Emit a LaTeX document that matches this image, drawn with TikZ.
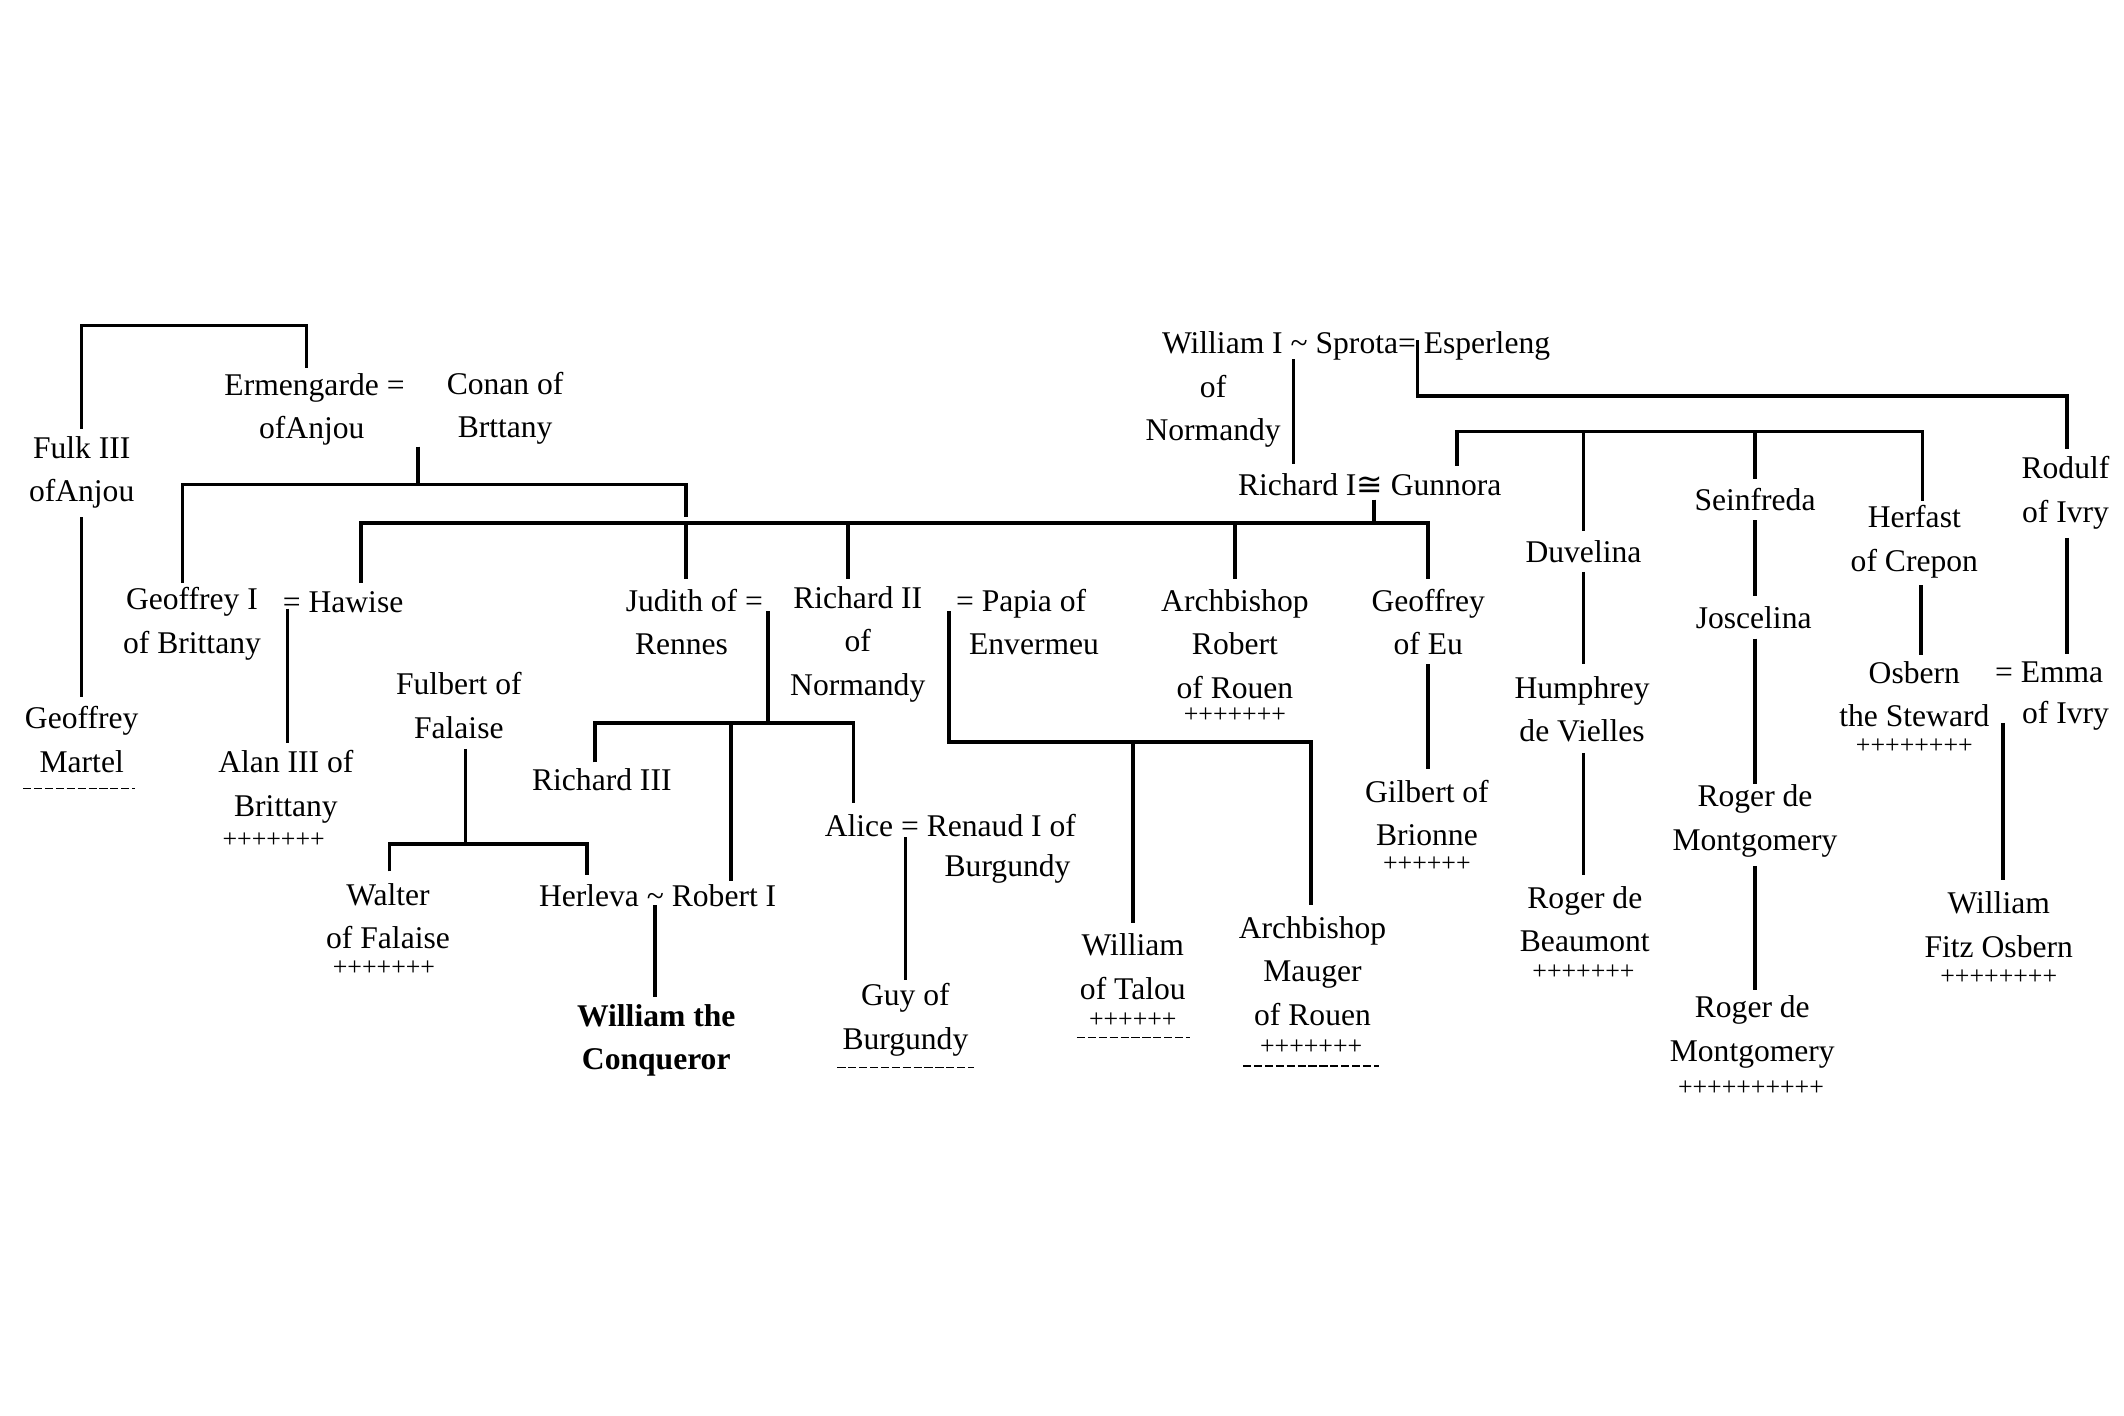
\documentclass[tikz,border=0pt]{standalone}
\usepackage{fontspec}
\setmainfont{Liberation Serif}
\newfontfamily\symf{DejaVu Sans}
\begin{document}
\begin{tikzpicture}[x=0.5pt,y=-0.5pt,
  t/.style={font=\fontsize{11.6}{16}\selectfont,align=center,inner sep=0pt},
  pl/.style={font=\fontsize{9.5}{12}\selectfont,inner sep=0pt},
  ln/.style={line width=1.3pt},
  dl/.style={line width=0.6pt,dash pattern=on 3pt off 1pt}]
\useasboundingbox (0,0) rectangle (1560,1040);
% people
\node[t] (fulk) at (60,347) {Fulk III\\ofAnjou};
\node[t] (erm) at (231,285) {Ermengarde =};
\node[t] (ermb) at (229,316) {ofAnjou};
\node[t] (conan) at (371,300) {Conan of\\Brttany};
\node[t] (gmart) at (60,543) {Geoffrey\\Martel};
\node[t] (geo1) at (141,458) {Geoffrey I\\of Brittany};
\node[t] (haw) at (252,442) {= Hawise};
\node[t] (alan) at (210,578) {Alan III of\\Brittany};
\node[pl] at (201,617) {+++++++};
\node[t] (fulb) at (337,518) {Fulbert of\\Falaise};
\node[t] (walt) at (285,673) {Walter\\of Falaise};
\node[pl] at (282,711) {+++++++};
\node[t] (herl) at (483,658) {Herleva {\char`\~} Robert I};
\node[t,font=\fontsize{11.6}{16}\selectfont\bfseries] (wc) at (482,764) {William the\\Conqueror};
\node[t] (r3) at (442,573) {Richard III};
\node[t] (jud) at (510,457) {Judith of =\\Rennes\phantom{ =}};
\node[t] (r2) at (630,473) {Richard II\\of\\Normandy};
\node[t] (pap) at (750,457) {= Papia of\\\phantom{=} Envermeu};
\node[t] (alice) at (698,606) {Alice = Renaud I of};
\node[t] (burg) at (740,638) {Burgundy};
\node[t] (guy) at (665,749) {Guy of\\Burgundy};
\node[t] (wtal) at (832,710) {William\\of Talou};
\node[pl] at (832,749) {++++++};
\node[t] (maug) at (964,713) {Archbishop\\Mauger\\of Rouen};
\node[pl] at (963,769) {+++++++};
\node[t] (rob) at (907,473) {Archbishop\\Robert\\of Rouen};
\node[pl] at (907,525) {+++++++};
\node[t] (geu) at (1049,457) {Geoffrey\\of Eu};
\node[t] (gilb) at (1048,597) {Gilbert of\\Brionne};
\node[pl] at (1048,635) {++++++};
\node[t] (w1) at (996,254) {William I {\char`\~} Sprota= Esperleng};
\node[t] (w1b) at (891,302) {of\\Normandy};
\node[t] (r1) at (1006,356) {Richard I{\symf ≅} Gunnora};
\node[t] (duv) at (1163,405) {Duvelina};
\node[t] (hum) at (1162,521) {Humphrey\\de Vielles};
\node[t] (rbea) at (1164,675) {Roger de\\Beaumont};
\node[pl] at (1163,714) {+++++++};
\node[t] (sein) at (1289,367) {Seinfreda};
\node[t] (josc) at (1288,454) {Joscelina};
\node[t] (rm1) at (1289,603) {Roger de\\Montgomery};
\node[t] (rm2) at (1287,758) {Roger de\\Montgomery};
\node[pl] at (1286,799) {++++++++++};
\node[t] (herf) at (1406,398) {Herfast\\of Crepon};
\node[t] (osb) at (1406,510) {Osbern\\the Steward};
\node[pl] at (1406,548) {++++++++};
\node[t] (emma) at (1505,494) {= Emma};
\node[t] (emmb) at (1517,526) {of Ivry};
\node[t] (rod) at (1517,362) {Rodulf\\of Ivry};
\node[t] (wfo) at (1468,679) {William\\Fitz Osbern};
\node[pl] at (1468,718) {++++++++};
% dashed underlines
\draw[dl] (17,579)--(99,579);
\draw[dl] (615,784)--(715,784);
\draw[dl] (791,762)--(874,762);
\draw[dl] (913,783)--(1013,783);
% lines
\draw[ln] (60,315)--(60,239)--(225,239)--(225,270);
\draw[ln] (60,380)--(60,512);
\draw[ln] (307,328)--(307,356);
\draw[ln] (134,428)--(134,356)--(504,356)--(504,380);
\draw[ln] (211,447)--(211,546);
\draw[ln] (265,428)--(265,384)--(1049,384)--(1049,425);
\draw[ln] (504,384)--(504,425);
\draw[ln] (623,384)--(623,425);
\draw[ln] (907,384)--(907,425);
\draw[ln] (1009,367)--(1009,384);
\draw[ln] (950,264)--(950,341);
\draw[ln] (1041,250)--(1041,291)--(1518,291)--(1518,330);
\draw[ln] (1070,342)--(1070,317)--(1412,317)--(1412,368);
\draw[ln] (1163,317)--(1163,390);
\draw[ln] (1289,317)--(1289,352);
\draw[ln] (1163,420)--(1163,488);
\draw[ln] (1163,553)--(1163,643);
\draw[ln] (1289,382)--(1289,438);
\draw[ln] (1289,469)--(1289,576);
\draw[ln] (1289,636)--(1289,727);
\draw[ln] (1411,430)--(1411,481);
\draw[ln] (1518,395)--(1518,480);
\draw[ln] (1471,531)--(1471,646);
\draw[ln] (342,550)--(342,620);
\draw[ln] (286,640)--(286,620)--(431,620)--(431,643);
\draw[ln] (481,665)--(481,732);
\draw[ln] (564,449)--(564,531);
\draw[ln] (437,560)--(437,531)--(627,531)--(627,590);
\draw[ln] (537,531)--(537,647);
\draw[ln] (665,615)--(665,720);
\draw[ln] (697,449)--(697,545)--(963,545)--(963,665);
\draw[ln] (832,545)--(832,678);
\draw[ln] (1049,488)--(1049,565);
\end{tikzpicture}
\end{document}
